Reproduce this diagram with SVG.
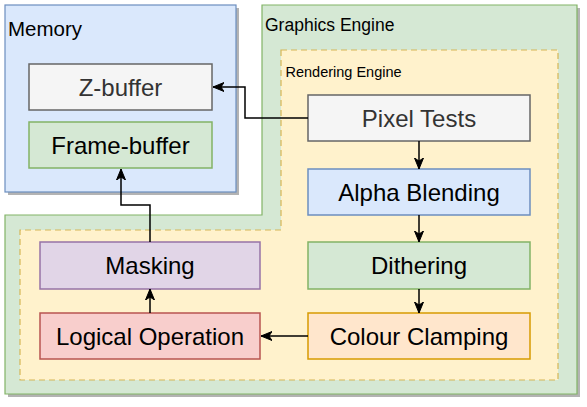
<svg xmlns="http://www.w3.org/2000/svg" width="587" height="407" viewBox="0 0 587 407">
<defs>
<marker id="arr" markerUnits="userSpaceOnUse" markerWidth="12" markerHeight="10" viewBox="0 0 12 10" refX="11" refY="5" orient="auto">
<path d="M0,0.5 L11,5 L0,9.5 L3,5 Z" fill="#000" stroke="#000" stroke-width="1"/>
</marker>
</defs>
<style>
text{font-family:"Liberation Sans",Arial,Helvetica,sans-serif;}
.lbl{font-size:24px;text-anchor:middle;fill:#000;}
.grey{fill:#333333;}
.cont{stroke-width:1.2;}
.node{stroke-width:1.5;}
.edge{fill:none;stroke:#000;stroke-width:1.5;}
</style>
<g id="memory">
<rect x="8" y="8" width="231" height="187" fill="#b3b3b3"/>
<rect x="5" y="5" width="231" height="187" fill="#dae8fc" stroke="#6c8ebf" class="cont"/>
<text x="8" y="35.5" font-size="20.5">Memory</text>
</g>
<g id="graphics-engine">
<path d="M265,8 L580,8 L580,397 L8,397 L8,218 L265,218 Z" fill="#b3b3b3"/>
<path d="M262,5 L577,5 L577,394 L5,394 L5,215 L262,215 Z" fill="#d5e8d4" stroke="#82b366" class="cont"/>
<text x="265" y="31" font-size="17.5">Graphics Engine</text>
</g>
<g id="rendering-engine">
<path d="M281,50 L558,50 L558,380 L20,380 L20,230 L281,230 Z" fill="#fff2cc" stroke="#d6b656" stroke-dasharray="6,4" class="cont"/>
<text x="285.5" y="77" font-size="14.5">Rendering Engine</text>
</g>
<g id="z-buffer">
<rect x="29" y="64" width="183" height="46" fill="#f5f5f5" stroke="#666666" class="node"/>
<text x="120.5" y="95.5" class="lbl grey">Z-buffer</text>
</g>
<g id="frame-buffer">
<rect x="29" y="122" width="183" height="46" fill="#d5e8d4" stroke="#82b366" class="node"/>
<text x="120.5" y="153.5" class="lbl">Frame-buffer</text>
</g>
<g id="pixel-tests">
<rect x="308" y="95" width="222" height="46" fill="#f5f5f5" stroke="#666666" class="node"/>
<text x="419" y="126.5" class="lbl grey">Pixel Tests</text>
</g>
<g id="alpha-blending">
<rect x="308" y="169" width="222" height="46" fill="#dae8fc" stroke="#6c8ebf" class="node"/>
<text x="419" y="200.5" class="lbl">Alpha Blending</text>
</g>
<g id="dithering">
<rect x="308" y="242" width="222" height="47" fill="#d5e8d4" stroke="#82b366" class="node"/>
<text x="419" y="274" class="lbl">Dithering</text>
</g>
<g id="colour-clamping">
<rect x="308" y="313" width="222" height="46" fill="#ffe6cc" stroke="#d79b00" class="node"/>
<text x="419" y="344.5" class="lbl">Colour Clamping</text>
</g>
<g id="masking">
<rect x="40" y="242" width="220" height="47" fill="#e1d5e7" stroke="#9673a6" class="node"/>
<text x="150" y="274" class="lbl">Masking</text>
</g>
<g id="logical-operation">
<rect x="40" y="313" width="220" height="46" fill="#f8cecc" stroke="#b85450" class="node"/>
<text x="150" y="344.5" class="lbl">Logical Operation</text>
</g>
<g id="connectors">
<path class="edge" d="M308,118 L245,118 L245,87 L213,87" marker-end="url(#arr)"/>
<path class="edge" d="M419,141 L419,169" marker-end="url(#arr)"/>
<path class="edge" d="M419,215 L419,242" marker-end="url(#arr)"/>
<path class="edge" d="M419,289 L419,313" marker-end="url(#arr)"/>
<path class="edge" d="M308,336 L261,336" marker-end="url(#arr)"/>
<path class="edge" d="M150,313 L150,289" marker-end="url(#arr)"/>
<path class="edge" d="M150,242 L150,205 L121,205 L121,169" marker-end="url(#arr)"/>
</g>
</svg>
